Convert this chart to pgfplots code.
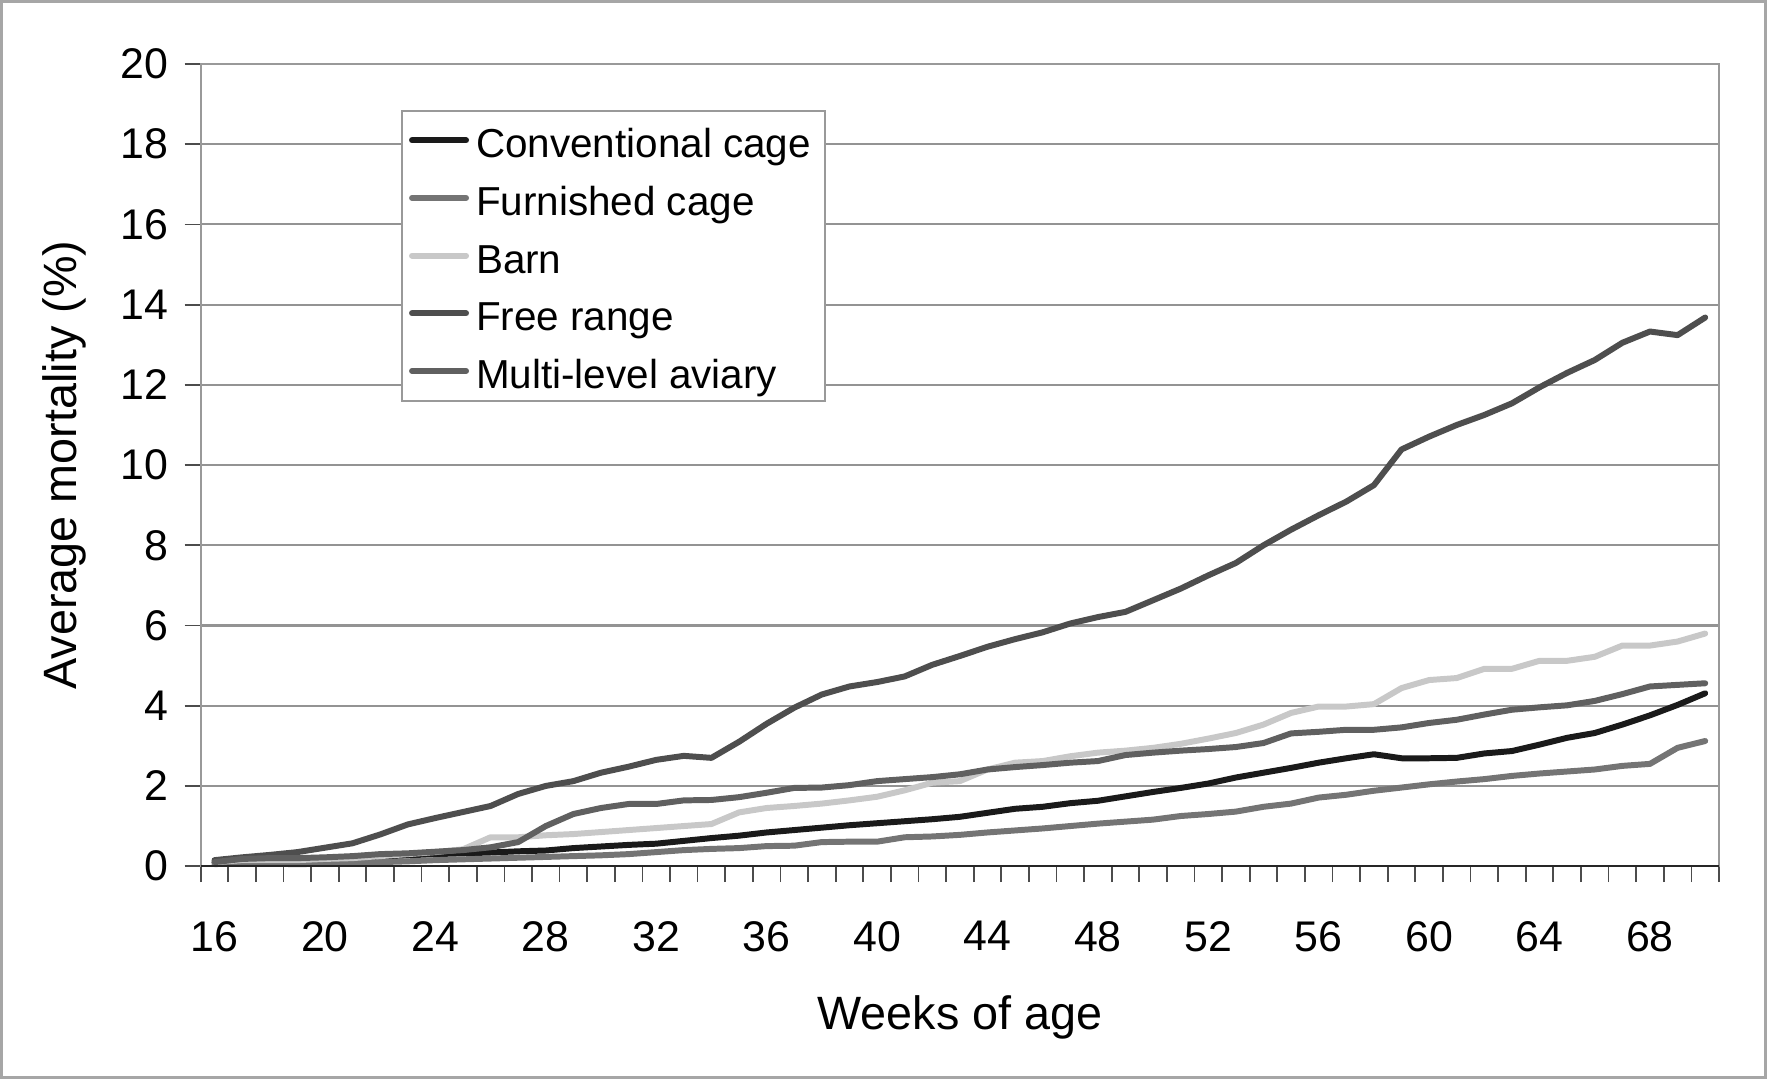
\documentclass[border=0pt]{standalone}
\usepackage{pgfplots}
\usepackage{pgfplotstable}
\pgfplotsset{compat=1.18}
\usepackage{fontspec}
\setmainfont{Liberation Sans}

\definecolor{cconv}{HTML}{1A1A1A}
\definecolor{cfurn}{HTML}{747474}
\definecolor{cbarn}{HTML}{C8C8C8}
\definecolor{cfree}{HTML}{4E4E4E}
\definecolor{cmult}{HTML}{606060}

% week, conventional, furnished, barn, free range, multi-level aviary
\pgfplotstableread{
week conv furn barn free multi
16 0.10 0.05 0.10 0.15 0.10
17 0.18 0.08 0.15 0.22 0.18
18 0.15 0.06 0.15 0.28 0.20
19 0.15 0.05 0.15 0.35 0.20
20 0.18 0.06 0.18 0.46 0.22
21 0.20 0.08 0.20 0.57 0.25
22 0.24 0.10 0.25 0.79 0.30
23 0.27 0.12 0.30 1.04 0.32
24 0.30 0.15 0.35 1.20 0.36
25 0.32 0.17 0.42 1.35 0.40
26 0.34 0.19 0.72 1.50 0.47
27 0.37 0.21 0.72 1.80 0.60
28 0.39 0.23 0.77 2.00 1.00
29 0.45 0.25 0.80 2.12 1.30
30 0.49 0.27 0.85 2.33 1.45
31 0.53 0.30 0.90 2.48 1.55
32 0.56 0.35 0.95 2.65 1.55
33 0.63 0.40 1.00 2.75 1.64
34 0.70 0.43 1.05 2.70 1.65
35 0.76 0.45 1.34 3.10 1.72
36 0.84 0.50 1.45 3.55 1.83
37 0.90 0.51 1.50 3.95 1.95
38 0.96 0.60 1.56 4.28 1.96
39 1.02 0.61 1.64 4.48 2.02
40 1.07 0.61 1.73 4.59 2.12
41 1.12 0.72 1.89 4.73 2.17
42 1.17 0.74 2.08 5.02 2.22
43 1.23 0.78 2.12 5.24 2.29
44 1.33 0.84 2.41 5.47 2.41
45 1.43 0.89 2.58 5.66 2.47
46 1.48 0.94 2.62 5.83 2.52
47 1.57 1.00 2.74 6.05 2.58
48 1.63 1.06 2.83 6.21 2.62
49 1.74 1.11 2.88 6.34 2.77
50 1.85 1.16 2.95 6.63 2.83
51 1.95 1.25 3.05 6.92 2.88
52 2.06 1.30 3.18 7.25 2.92
53 2.21 1.36 3.32 7.56 2.97
54 2.33 1.48 3.53 8.00 3.07
55 2.45 1.56 3.82 8.39 3.31
56 2.58 1.71 3.98 8.75 3.35
57 2.69 1.78 3.98 9.09 3.40
58 2.79 1.88 4.04 9.50 3.40
59 2.69 1.96 4.44 10.39 3.46
60 2.69 2.04 4.64 10.71 3.57
61 2.70 2.11 4.69 11.00 3.65
62 2.81 2.17 4.92 11.25 3.78
63 2.87 2.25 4.92 11.54 3.90
64 3.03 2.31 5.12 11.94 3.96
65 3.20 2.36 5.12 12.30 4.01
66 3.32 2.41 5.22 12.62 4.12
67 3.53 2.50 5.50 13.05 4.29
68 3.76 2.55 5.50 13.33 4.48
69 4.02 2.95 5.60 13.24 4.52
70 4.31 3.12 5.80 13.68 4.56
}\mortality

\begin{document}
\begin{tikzpicture}
\begin{axis}[
  scale only axis,
  width=151.8mm, height=80.2mm,
  xmin=15.5, xmax=70.5,
  ymin=0, ymax=20,
  xtick={16,20,...,68},
  minor xtick={15.5,16.5,...,70.5},
  ytick={0,2,...,20},
  tick align=outside,
  xtick pos=bottom, ytick pos=left,
  major x tick style={draw=none},
  minor tick length=1.6mm,
  major tick length=1.6mm,
  tick style={black!70, line width=0.5pt},
  ymajorgrids,
  major grid style={gray!85, line width=0.6pt},
  axis line style={gray!80, line width=0.6pt},
  tick label style={font=\fontsize{12.2}{14}\selectfont},
  /pgf/number format/assume math mode=true,
  xticklabel style={yshift=-2.65mm},
  yticklabel style={xshift=-0.4mm},
  xlabel={Weeks of age},
  ylabel={Average mortality (\%)},
  every axis x label/.style={at={(axis description cs:0.5,-0.188)}, anchor=center,
    font=\fontsize{13.3}{16}\selectfont},
  every axis y label/.style={at={(axis description cs:-0.0896,0.5)}, rotate=90, anchor=center,
    font=\fontsize{13.3}{16}\selectfont},
  legend style={at={(axis description cs:0.132,0.943)}, anchor=north west,
    draw=gray!80, line width=0.5pt, fill=white,
    font=\fontsize{11.5}{13}\selectfont,
    inner xsep=2pt, inner ysep=1pt, row sep=1.5pt,
    nodes={inner sep=2pt, text height=10.4pt, text depth=0.5pt}},
  legend cell align=left,
  legend image code/.code={\draw[#1, line width=1.7pt] (0.3mm,0mm) -- (5.7mm,0mm);},
  every axis plot/.append style={line width=1.7pt, line join=round, line cap=round},
  clip=false,
]
\addplot[cconv] table[x=week, y=conv] {\mortality};
\addplot[cfurn] table[x=week, y=furn] {\mortality};
\addplot[cbarn] table[x=week, y=barn] {\mortality};
\addplot[cfree] table[x=week, y=free] {\mortality};
\addplot[cmult] table[x=week, y=multi] {\mortality};
\legend{Conventional cage, Furnished cage, Barn, Free range, Multi-level aviary}
\draw[black!85, line width=0.7pt] (rel axis cs:0,0) -- (rel axis cs:1,0);
\end{axis}
\path[use as bounding box] ([xshift=-20.07mm, yshift=-21.3mm]current axis.south west)
  rectangle ([xshift=4.8mm, yshift=6.4mm]current axis.north east);
\draw[gray!70, line width=0.8pt] ([xshift=-19.93mm, yshift=-21.16mm]current axis.south west)
  rectangle ([xshift=4.66mm, yshift=6.26mm]current axis.north east);
\end{tikzpicture}
\end{document}
